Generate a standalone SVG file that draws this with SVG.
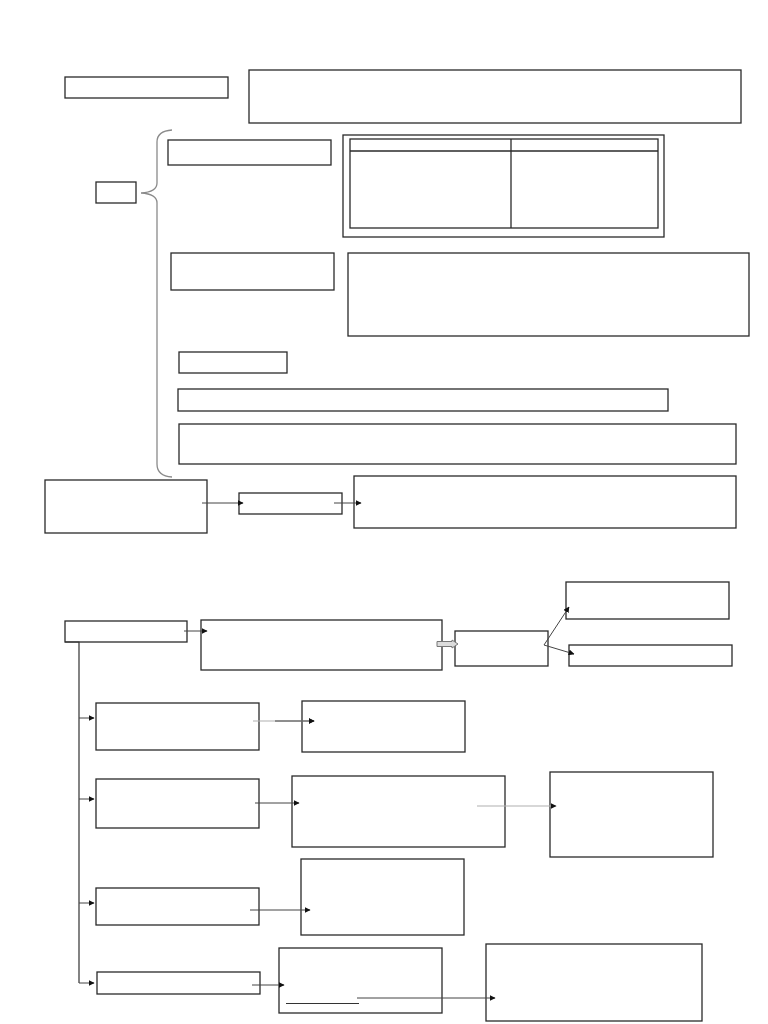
<svg xmlns="http://www.w3.org/2000/svg" width="768" height="1024" viewBox="0 0 768 1024">
<style>
  .box { fill: #ffffff; stroke: #2a2a2a; stroke-width: 1.3; }
  .tbl { fill: none; stroke: #2a2a2a; stroke-width: 1.3; }
  .brace { fill: none; stroke: #8a8a8a; stroke-width: 1.3; }
  .conn { fill: none; stroke: #444444; stroke-width: 1; marker-end: url(#ah); }
  .connl { fill: none; stroke: #b0b0b0; stroke-width: 1.2; marker-end: url(#ah); }
  .line { fill: none; stroke: #333333; stroke-width: 1.2; }
</style>
<defs>
  <marker id="ah" viewBox="0 0 10 10" refX="9" refY="5" markerWidth="6" markerHeight="6" markerUnits="userSpaceOnUse" orient="auto">
    <path d="M0,0 L10,5 L0,10 z" fill="#111111"/>
  </marker>
</defs>
<rect width="768" height="1024" fill="#ffffff"/>

<g id="top-section">
  <g id="nodeA"><rect class="box" x="65" y="77" width="163" height="21"/></g>
  <g id="nodeB"><rect class="box" x="249" y="70" width="492" height="53"/></g>
  <g id="nodeC"><rect class="box" x="96" y="182" width="40" height="21"/></g>
  <g id="brace"><path class="brace" d="M172,130 Q157,131 157,142 L157,183 Q157,192 141,193 Q157,194 157,203 L157,464 Q157,476 172,477"/></g>
  <g id="nodeD"><rect class="box" x="168" y="140" width="163" height="25"/></g>
  <g id="table">
    <rect class="tbl" x="343" y="135" width="321" height="102"/>
    <rect class="tbl" x="350" y="139" width="308" height="89"/>
    <line class="tbl" x1="350" y1="151" x2="658" y2="151"/>
    <line class="tbl" x1="511" y1="139" x2="511" y2="228"/>
  </g>
  <g id="nodeE"><rect class="box" x="171" y="253" width="163" height="37"/></g>
  <g id="nodeF"><rect class="box" x="348" y="253" width="401" height="83"/></g>
  <g id="nodeG"><rect class="box" x="179" y="352" width="108" height="21"/></g>
  <g id="nodeH"><rect class="box" x="178" y="389" width="490" height="22"/></g>
  <g id="nodeI"><rect class="box" x="179" y="424" width="557" height="40"/></g>
  <g id="nodeJ"><rect class="box" x="45" y="480" width="162" height="53"/></g>
  <g id="nodeK"><rect class="box" x="239" y="493" width="103" height="21"/></g>
  <g id="nodeL"><rect class="box" x="354" y="476" width="382" height="52"/></g>
</g>

<g id="bottom-section">
  <g id="nodeM"><rect class="box" x="65" y="621" width="122" height="21"/></g>
  <g id="nodeN"><rect class="box" x="201" y="620" width="241" height="50"/></g>
  <g id="nodeO"><rect class="box" x="455" y="631" width="93" height="35"/></g>
  <g id="nodeP"><rect class="box" x="566" y="582" width="163" height="37"/></g>
  <g id="nodeQ"><rect class="box" x="569" y="645" width="163" height="21"/></g>
  <g id="nodeR1"><rect class="box" x="96" y="703" width="163" height="47"/></g>
  <g id="nodeR2"><rect class="box" x="302" y="701" width="163" height="51"/></g>
  <g id="nodeS1"><rect class="box" x="96" y="779" width="163" height="49"/></g>
  <g id="nodeS2"><rect class="box" x="292" y="776" width="213" height="71"/></g>
  <g id="nodeS3"><rect class="box" x="550" y="772" width="163" height="85"/></g>
  <g id="nodeT1"><rect class="box" x="96" y="888" width="163" height="37"/></g>
  <g id="nodeT2"><rect class="box" x="301" y="859" width="163" height="76"/></g>
  <g id="nodeU1"><rect class="box" x="97" y="972" width="163" height="22"/></g>
  <g id="nodeU2">
    <rect class="box" x="279" y="948" width="163" height="65"/>
    <line class="line" x1="286" y1="1003.5" x2="359" y2="1003.5"/>
  </g>
  <g id="nodeU3"><rect class="box" x="486" y="944" width="216" height="77"/></g>
</g>

<g id="connectors">
  <line class="conn" x1="202" y1="503" x2="243" y2="503"/>
  <line class="conn" x1="334" y1="503" x2="361" y2="503"/>
  <line class="conn" x1="184" y1="631" x2="207" y2="631"/>
  <path d="M437,641.5 L452,641.5 L452,640 L458,644 L452,648 L452,646.5 L437,646.5 z" fill="#dcdcdc" stroke="#777777" stroke-width="1"/>
  <line class="conn" x1="544" y1="645" x2="569" y2="607"/>
  <line class="conn" x1="544" y1="645" x2="574" y2="654"/>
  <path class="line" d="M65,642 L79,642 L79,983"/>
  <line class="conn" x1="79" y1="718" x2="94" y2="718"/>
  <line class="conn" x1="79" y1="799" x2="94" y2="799"/>
  <line class="conn" x1="79" y1="903" x2="94" y2="903"/>
  <line class="conn" x1="79" y1="983" x2="94" y2="983"/>
  <line class="connl" x1="253" y1="721" x2="314" y2="721"/>
  <line class="conn" x1="275" y1="721" x2="314" y2="721"/>
  <line class="conn" x1="255" y1="803" x2="299" y2="803"/>
  <line class="connl" x1="477" y1="806" x2="556" y2="806"/>
  <line class="conn" x1="250" y1="910" x2="310" y2="910"/>
  <line class="conn" x1="252" y1="985" x2="284" y2="985"/>
  <line class="conn" x1="357" y1="998" x2="495" y2="998"/>
</g>
</svg>
